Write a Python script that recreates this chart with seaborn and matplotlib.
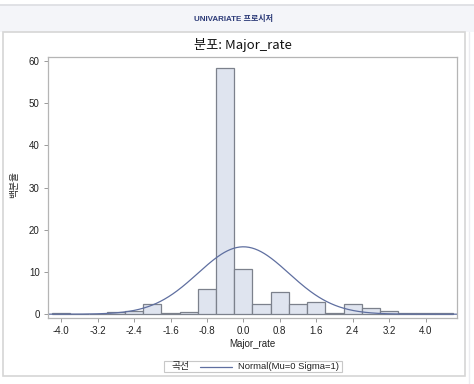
import numpy as np
import pandas as pd
import matplotlib
matplotlib.use("Agg")
import matplotlib.pyplot as plt
import seaborn as sns
from matplotlib.patches import Rectangle
from matplotlib.lines import Line2D

# ---- data ----
bin_centers = [-4.0, -3.6, -3.2, -2.8, -2.4, -2.0, -1.6, -1.2, -0.8, -0.4,
               0.0, 0.4, 0.8, 1.2, 1.6, 2.0, 2.4, 2.8, 3.2, 3.6, 4.0, 4.4]
percents = [0.3, 0.1, 0.1, 0.6, 0.75, 2.4, 0.3, 0.6, 6.0, 58.4,
            10.7, 2.5, 5.2, 2.5, 2.8, 0.4, 2.45, 1.35, 0.65, 0.4, 0.2, 0.2]
bin_width = 0.4
normal_mu = 0.0
normal_sigma = 1.0
xtick_values = [-4.0, -3.2, -2.4, -1.6, -0.8, 0.0, 0.8, 1.6, 2.4, 3.2, 4.0]
xtick_labels = ["-4.0", "-3.2", "-2.4", "-1.6", "-0.8", "0.0", "0.8", "1.6", "2.4", "3.2", "4.0"]
ytick_values = [0, 10, 20, 30, 40, 50, 60]

page_title = "UNIVARIATE 프로시저"
chart_title = "분포: Major_rate"
x_label = "Major_rate"
y_label = "백분율"
legend_title = "곡선"
legend_label = "Normal(Mu=0 Sigma=1)"

sns.set_theme(style="white")
plt.rcParams['font.family'] = ['Liberation Sans', 'Noto Sans CJK KR', 'DejaVu Sans']

W, H = 474, 384
fig = plt.figure(figsize=(W / 100, H / 100), dpi=100)
fig.patch.set_facecolor("white")

def fx(px):
    return px / W

def fy(py):
    return 1 - py / H

# page decorations
fig.add_artist(Rectangle((0, fy(32)), 1, fy(5) - fy(32), transform=fig.transFigure,
                         facecolor="#f4f5f9", edgecolor="none", zorder=0))
fig.add_artist(Line2D([0, 1], [fy(5), fy(5)], transform=fig.transFigure,
                      color="#dcdde2", lw=1.2, zorder=1))
fig.add_artist(Rectangle((fx(3), fy(376)), fx(465) - fx(3), fy(32) - fy(376),
                         transform=fig.transFigure, facecolor="white",
                         edgecolor="#d6d6d6", lw=1.2, zorder=1))
fig.add_artist(Line2D([fx(469), fx(469)], [0, fy(32)], transform=fig.transFigure,
                      color="#ececf0", lw=1.0, zorder=1))
fig.text(fx(234), fy(18.5), page_title, ha="center", va="center", fontsize=5.8,
         fontweight="bold", color="#2d3b78")

fig.text(fx(243), fy(45), chart_title, ha="center", va="center", fontsize=9.5,
         color="#111111", family=['Noto Sans CJK KR', 'DejaVu Sans'])

ax = fig.add_axes([fx(48), fy(318), fx(456.5) - fx(48), fy(57) - fy(318)])
ax.set_zorder(2)

df = pd.DataFrame({"x": bin_centers, "pct": percents})
lo = min(bin_centers) - bin_width / 2
hi = max(bin_centers) + bin_width / 2
sns.histplot(data=df, x="x", weights="pct", binwidth=bin_width, binrange=(lo, hi), ax=ax,
             color="#dfe4ef", edgecolor="#7c818c", linewidth=0.9, alpha=1.0)

xs = np.linspace(-4.3, 4.7, 400)
ys = 100 * bin_width * np.exp(-0.5 * ((xs - normal_mu) / normal_sigma) ** 2) / (normal_sigma * np.sqrt(2 * np.pi))
sns.lineplot(x=xs, y=ys, ax=ax, color="#5f6fa0", lw=0.9)

ax.set_xlim(-4.29, 4.68)
ax.set_ylim(-0.9, 60.9)
ax.set_xticks(xtick_values)
ax.set_xticklabels(xtick_labels)
ax.set_yticks(ytick_values)
ax.tick_params(axis="both", which="both", length=3, width=0.7, color="#9a9a9a",
               labelsize=7, labelcolor="#222222", pad=3, direction="out")
ax.xaxis.set_ticks_position("bottom")
ax.yaxis.set_ticks_position("left")
for s in ax.spines.values():
    s.set_color("#b5b5b5")
    s.set_linewidth(0.9)
ax.set_xlabel("")
ax.set_ylabel("")
ax.grid(False)

fig.text(fx(252), fy(344), x_label, ha="center", va="center", fontsize=7, color="#222222")
fig.text(fx(14), fy(185), y_label, ha="center", va="center", fontsize=7, color="#222222",
         rotation=90, family=['Noto Sans CJK KR', 'DejaVu Sans'])

# legend box
fig.add_artist(Rectangle((fx(164), fy(372)), fx(342) - fx(164), fy(361) - fy(372),
                         transform=fig.transFigure, facecolor="white",
                         edgecolor="#c8c8c8", lw=0.8, zorder=3))
fig.text(fx(181), fy(366.5), legend_title, ha="center", va="center", fontsize=7,
         color="#222222", family=['Noto Sans CJK KR', 'DejaVu Sans'], zorder=4)
fig.add_artist(Line2D([fx(200), fx(232)], [fy(366.5), fy(366.5)], transform=fig.transFigure,
                      color="#5f6fa0", lw=0.9, zorder=4))
fig.text(fx(238), fy(366.5), legend_label, ha="left", va="center", fontsize=6.8,
         color="#222222", zorder=4)

fig.savefig("out.png", dpi=100)
